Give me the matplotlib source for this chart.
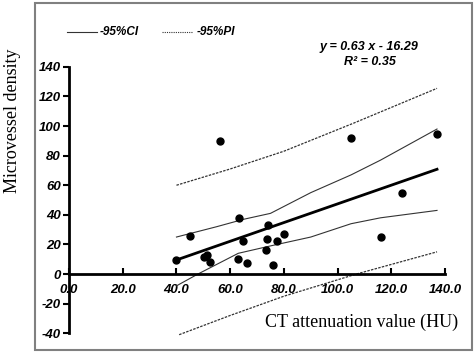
import matplotlib.pyplot as plt
from matplotlib.patches import Rectangle

# scatter points (CT attenuation, microvessel density)
ct = [40.0, 45.0, 50.3, 51.5, 52.5, 56.2, 63.3, 64.9, 63.0, 66.1,
      74.2, 73.8, 73.3, 76.1, 77.3, 80.2, 104.9, 124.1, 116.2, 136.9]
mvd = [9.5, 25.7, 11.5, 12.8, 8.0, 90.0, 37.9, 22.5, 9.9, 7.2,
       33.1, 23.7, 16.2, 6.1, 22.3, 26.8, 92.2, 55.0, 24.8, 94.5]

# fitted line ends
fit_x = [40.0, 137.0]
fit_y = [9.5, 70.8]

# confidence band
ci_up_x = [40, 55, 65, 75, 90, 105, 116, 137]
ci_up_y = [25, 32, 37, 41, 55, 67, 77, 98]
ci_lo_x = [40, 48, 63, 75, 90, 105, 116, 137]
ci_lo_y = [-8, 0, 14, 19, 25, 34, 38, 43]

# prediction band
pi_up_x = [40, 60, 80, 106, 137]
pi_up_y = [60, 71, 83, 102, 125.5]
pi_lo_x = [41, 60, 80, 107, 137]
pi_lo_y = [-41, -28, -15, 0, 15]

xticks = [0, 20, 40, 60, 80, 100, 120, 140]
yticks = [-40, -20, 0, 20, 40, 60, 80, 100, 120, 140]

tick_font = dict(family='Liberation Sans', weight='bold', style='italic', size=9.5)

fig = plt.figure(figsize=(4.74, 3.53), dpi=100)
ax = fig.add_axes([0.1173, 0.0351, 0.85, 0.7964])
ax.set_xlim(-5, 145)
ax.set_ylim(-45, 145)

ci_style = dict(color='#333333', lw=0.8)
pi_style = dict(color='#333333', lw=0.9, ls=(0, (2, 1)))
ax.plot(ci_up_x, ci_up_y, **ci_style)
ax.plot(ci_lo_x, ci_lo_y, **ci_style)
ax.plot(pi_up_x, pi_up_y, **pi_style)
ax.plot(pi_lo_x, pi_lo_y, **pi_style)
ax.plot(fit_x, fit_y, color='black', lw=2)
ax.plot(ct, mvd, 'o', color='black', ms=5, ls='none', zorder=5)

for s in ['top', 'right']:
    ax.spines[s].set_visible(False)
ax.spines['left'].set_position(('data', 0))
ax.spines['bottom'].set_position(('data', 0))
ax.spines['left'].set_bounds(-40, 140)
ax.spines['bottom'].set_bounds(0, 140)
ax.spines['left'].set_linewidth(2)
ax.spines['bottom'].set_linewidth(2)

ax.set_xticks(xticks)
ax.set_xticklabels(['%.1f' % v for v in xticks], fontdict=tick_font)
ax.set_yticks(yticks)
ax.set_yticklabels([str(v) for v in yticks], fontdict=tick_font)
ax.tick_params(axis='x', direction='in', length=4, width=1.5, pad=7)
ax.tick_params(axis='y', direction='out', length=4, width=1.5, pad=2)
ax.patch.set_alpha(0)

# legend drawn by hand
legend_font = dict(family='Liberation Sans', weight='bold', style='italic', size=8.5)
fig.add_artist(plt.Line2D([67/474, 97/474], [1-32/353, 1-32/353], **ci_style))
fig.text(100/474, 1-32/353, '-95%CI', va='center', ha='left', **legend_font)
fig.add_artist(plt.Line2D([162/474, 193/474], [1-32/353, 1-32/353],
                          color='#333333', lw=0.8, ls=(0, (1, 1))))
fig.text(197/474, 1-32/353, '-95%PI', va='center', ha='left', **legend_font)

eq_font = dict(family='Liberation Sans', weight='bold', style='italic', size=9)
fig.text(369/474, 1-47/353, 'y = 0.63 x - 16.29', ha='center', va='center', **eq_font)
fig.text(370/474, 1-62/353, 'R² = 0.35', ha='center', va='center', **eq_font)

fig.text(13/474, 1-121/353, 'Microvessel density', rotation=90, ha='center', va='center',
         family='Liberation Serif', size=13)
fig.text(362/474, 1-322/353, 'CT attenuation value (HU)', ha='center', va='center',
         family='Liberation Serif', size=13)

fig.add_artist(Rectangle((35/474, 3/353), 437/474, 347/353, transform=fig.transFigure,
                         fill=False, edgecolor='#808080', lw=1.5))

fig.savefig('out.png', dpi=100)
